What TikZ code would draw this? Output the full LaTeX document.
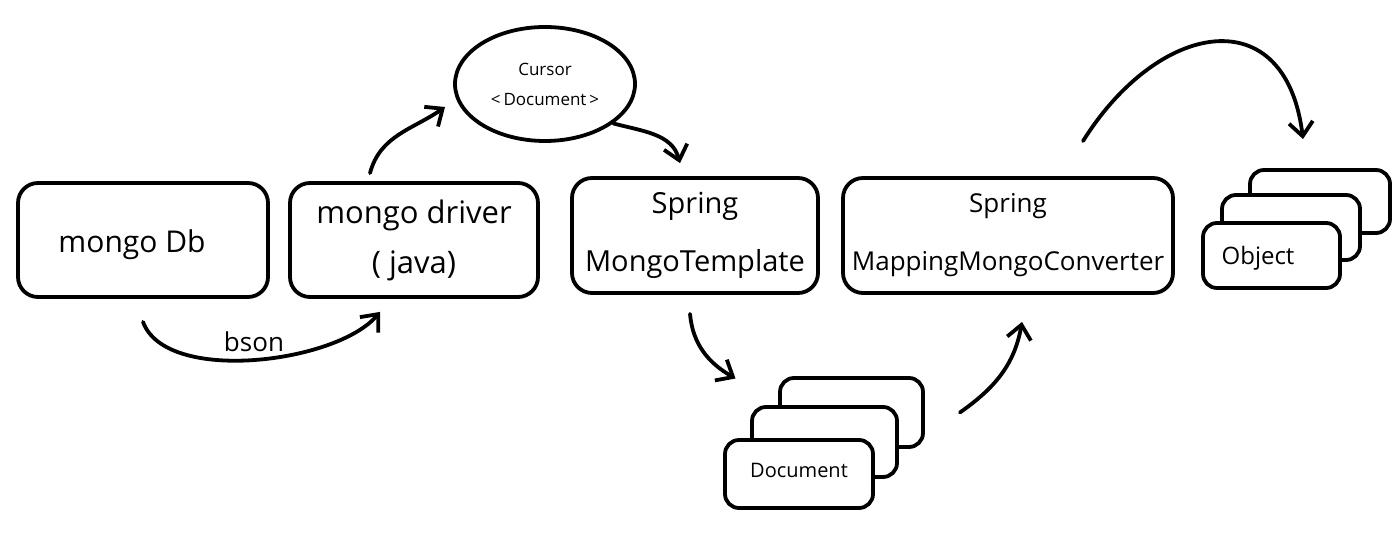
\documentclass[tikz,border=0pt]{standalone}
\usepackage{fontspec}
\setmainfont{Open Sans}
\usetikzlibrary{arrows.meta,shapes.geometric}
\tikzset{
  ink/.style={line width=3.8pt, line cap=round, line join=round},
  box/.style={ink, draw, rounded corners=20pt, fill=white, inner sep=0pt, align=center},
  bigtxt/.style={font=\fontsize{29}{58}\selectfont},
  arr/.style={ink, -{Straight Barb[length=14pt, width=24pt, line width=3.8pt]}},
  smallbox/.style={box, rounded corners=14pt, minimum width=140pt, minimum height=66pt},
}
\begin{document}
\begin{tikzpicture}[x=1pt, y=1pt]
\useasboundingbox (0,0) rectangle (1400,537);

% main boxes
\node[box, bigtxt, minimum width=250pt, minimum height=114pt] (db) at (143,297) {};
\node[font=\fontsize{30}{56}\selectfont] (dbt) at (132,292) {mongo Db};
\node[box, font=\fontsize{31}{50}\selectfont, minimum width=248pt, minimum height=114pt] (drv) at (414,297) {mongo driver\\( java)};
\node[box, bigtxt, minimum width=246pt, minimum height=115pt] (tmpl) at (695,301.5) {Spring\\MongoTemplate};
\node[box, font=\fontsize{26}{58}\selectfont, minimum width=330pt, minimum height=115pt] (conv) at (1008,301.5) {Spring\\MappingMongoConverter};

% cursor ellipse
\node[ink, draw, ellipse, minimum width=180pt, minimum height=114pt, inner sep=0pt, align=center,
      font=\fontsize{17}{30}\selectfont] (cur) at (545,453) {Cursor\\\textless\,Document\,\textgreater};

% document stack
\node[smallbox, minimum width=143pt, minimum height=69pt] (doc3) at (851.5,124.5) {};
\node[smallbox, minimum width=145pt, minimum height=70pt] (doc2) at (824.5,95) {};
\node[smallbox, minimum width=148pt, minimum height=68pt] (doc1) at (799,63) {};
\node[font=\fontsize{20}{22}\selectfont] (doc1t) at (799,67) {Document};

% object stack
\node[smallbox, minimum width=140pt, minimum height=63pt] (obj3) at (1320,335.5) {};
\node[smallbox, minimum width=138pt, minimum height=65pt] (obj2) at (1291,309.5) {};
\node[smallbox, minimum width=137pt, minimum height=65pt] (obj1) at (1271.5,281.5) {};
\node[font=\fontsize{24}{26}\selectfont] (obj1t) at (1258,279) {Object};

% arrows
\draw[arr] ([yshift=-23pt]db.south) to[out=-70, in=-130, looseness=0.72]
  node[pos=0.5, above=3pt, font=\fontsize{26}{28}\selectfont] (bson) {bson}
  ([xshift=-34pt, yshift=-13pt]drv.south);
\draw[arr] ([xshift=-44pt, yshift=8pt]drv.north) to[out=75, in=-145] ([xshift=-100pt, yshift=-23pt]cur.center);
\draw[arr] (cur.-30) to[out=-15, in=105] ([xshift=-15pt, yshift=13pt]tmpl.north);
\draw[arr] ([xshift=-5pt, yshift=-19pt]tmpl.south) to[out=-85, in=150] ([xshift=-116pt, yshift=34pt]doc3.center);
\draw[arr] ([xshift=35pt]doc3.east) to[out=35, in=-100] ([xshift=14pt, yshift=-27pt]conv.south);
\draw[arr] ([xshift=75pt, yshift=35pt]conv.north) to[out=58, in=97, looseness=1.65] ([xshift=-17pt, yshift=29pt]obj3.north);
\end{tikzpicture}
\end{document}
